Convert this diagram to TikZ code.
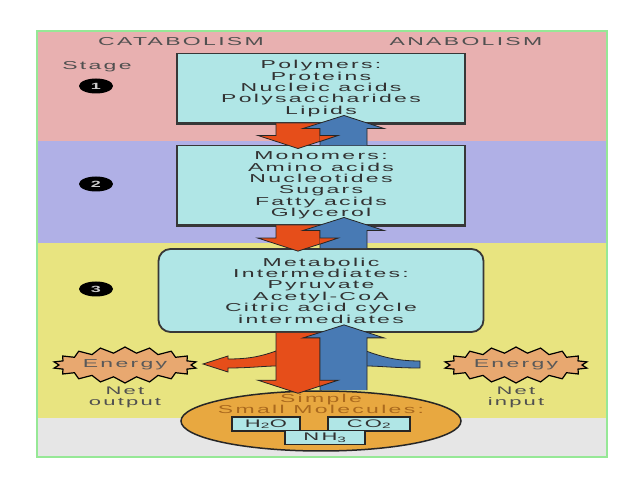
\documentclass[tikz,border=0pt]{standalone}
\usepackage{fontspec}
\usepackage{xcolor}
\usepackage{tikz}
\usetikzlibrary{calc, shapes.geometric, shapes.symbols, positioning}

\newfontfamily\diagfont[FakeStretch=2.0, LetterSpace=20]{Liberation Sans}

\definecolor{pinkband}{RGB}{232,176,176}
\definecolor{blueband}{RGB}{176,176,230}
\definecolor{yellowband}{RGB}{232,228,128}
\definecolor{grayband}{RGB}{230,230,230}
\definecolor{framegreen}{RGB}{150,232,150}
\definecolor{boxfill}{RGB}{176,230,230}
\definecolor{boxline}{RGB}{55,55,55}
\definecolor{catorange}{RGB}{230,78,26}
\definecolor{anablue}{RGB}{72,122,180}
\definecolor{energyfill}{RGB}{232,168,112}
\definecolor{molfill}{RGB}{232,168,64}
\definecolor{moltext}{RGB}{170,105,30}
\definecolor{textgray}{RGB}{50,50,50}
\definecolor{labelgray}{RGB}{80,80,80}

\tikzset{
  headtext/.style={font=\diagfont\fontsize{11.5}{11.5}\selectfont, text=labelgray},
  stagedot/.style={ellipse, fill=black, minimum width=34pt, minimum height=15pt,
    inner sep=0pt, text=black!20, font=\diagfont\bfseries\fontsize{9}{9}\selectfont},
  stagebox/.style={rectangle, fill=boxfill, draw=boxline, line width=1pt,
    minimum width=287pt, inner sep=0pt, align=center, text=textgray,
    font=\diagfont\fontsize{11.5}{11.4}\selectfont},
  boxedge/.style={draw=boxline, line width=2.5pt},
  catarrow/.style={fill=catorange, draw=black!85, line width=0.8pt},
  anaarrow/.style={fill=anablue, draw=black!85, line width=0.8pt},
  energy/.style={starburst, starburst points=18, starburst point height=6pt,
    random starburst=0, fill=energyfill, draw=black, line width=1.2pt,
    minimum width=144pt, minimum height=36pt, inner sep=0pt, text=black!65,
    font=\diagfont\fontsize{11.5}{11.5}\selectfont},
  nettext/.style={align=center, text=labelgray, font=\diagfont\fontsize{11}{11}\selectfont},
  molellipse/.style={ellipse, fill=molfill, draw=black!85, line width=1.5pt,
    minimum width=280pt, minimum height=60pt, inner sep=0pt},
  molbox/.style={rectangle, fill=boxfill, draw=black!85, line width=1.2pt,
    minimum height=14pt, inner sep=0pt, text=textgray,
    font=\diagfont\fontsize{11}{11}\selectfont}
}

\begin{document}
\begin{tikzpicture}[x=1pt, y=-1pt, >=latex]
    \useasboundingbox (0,0) rectangle (638,478);

    % Stage bands and frame
    \fill[pinkband] (37,31) rectangle (607,141);
    \fill[blueband] (37,141) rectangle (607,243);
    \fill[yellowband] (37,243) rectangle (607,418);
    \fill[grayband] (37,418) rectangle (607,457);
    \draw[framegreen, line width=1.5pt] (37,31) rectangle (607,457);

    % Headings and stage numbers
    \node[headtext] (cat) at (181,42) {CATABOLISM};
    \node[headtext] (ana) at (466,42) {ANABOLISM};
    \node[headtext] (stage) at (97,67) {Stage};
    \foreach \n/\y in {1/86, 2/184, 3/289} {
        \node[stagedot] (s\n) at (96,\y) {\n};
    }

    % Boxes
    \node[stagebox, minimum height=69pt] (poly) at (321,88.5)
        {Polymers:\\Proteins\\Nucleic acids\\Polysaccharides\\Lipids};
    \node[stagebox, minimum height=79pt] (mono) at (321,185.5)
        {Monomers:\\Amino acids\\Nucleotides\\Sugars\\Fatty acids\\Glycerol};
    \node[stagebox, minimum width=325pt, minimum height=83pt, rounded corners=12pt, line width=1.8pt] (meta) at (321,290.5)
        {Metabolic\\Intermediates:\\Pyruvate\\Acetyl-CoA\\Citric acid cycle\\intermediates};
    \foreach \b in {poly, mono} {
        \draw[boxedge] (\b.north west) -- (\b.south west) -- (\b.south east) -- (\b.north east);
    }

    % Simple small molecules
    \node[molellipse] (sm) at (321,421) {};
    \node[headtext, text=moltext, align=center, font=\diagfont\fontsize{11.5}{10.5}\selectfont] (smlabel) at (321,404)
        {Simple\\Small Molecules:};
    \node[molbox, minimum width=68pt] (h2o) at (266,424) {H\textsubscript{2}O};
    \node[molbox, minimum width=82pt] (co2) at (369,424) {CO\textsubscript{2}};
    \node[molbox, minimum width=80pt] (nh3) at (325,437.5) {NH\textsubscript{3}};

    % Energy
    \node[energy] (eout) at (125,365) {Energy};
    \node[nettext] (netout) at (125,397) {Net\\output};
    \node[energy] (ein) at (516,365) {Energy};
    \node[nettext] (netin) at (516,397) {Net\\input};

    % Energy branches
    \draw[catarrow] (276,351) .. controls (262,356) and (250,359) .. (228,359) -- (228,356)
        -- (203,364) -- (228,372) -- (228,368) .. controls (250,368) and (265,366) .. (276,366);
    \draw[anaarrow] (366,351) .. controls (380,356) and (395,361) .. (420,361) -- (420,368)
        .. controls (395,368) and (380,366) .. (366,366);

    % Catabolic (down) and anabolic (up) arrows
    \foreach \a/\b in {poly/mono, mono/meta, meta/sm} {
        \draw[catarrow] ($(\a.south)+(-45,0)$) -- ($(\b.north)+(-45,-10)$) -- ($(\b.north)+(-63,-10)$)
            -- ($(\b.north)+(-23,3)$) -- ($(\b.north)+(17,-10)$) -- ($(\b.north)+(-1,-10)$) -- ($(\a.south)+(-1,0)$);
        \draw[anaarrow] ($(\b.north)+(-1,0)$) -- ($(\a.south)+(-1,5)$) -- ($(\a.south)+(-18,5)$)
            -- ($(\a.south)+(23,-8)$) -- ($(\a.south)+(63,5)$) -- ($(\a.south)+(46,5)$) -- ($(\b.north)+(46,0)$);
        \draw[catarrow] ($(\b.north)+(-1,-10)$) -- ($(\b.north)+(17,-10)$) -- ($(\b.north)+(-1,-4)$);
    }
\end{tikzpicture}
\end{document}
